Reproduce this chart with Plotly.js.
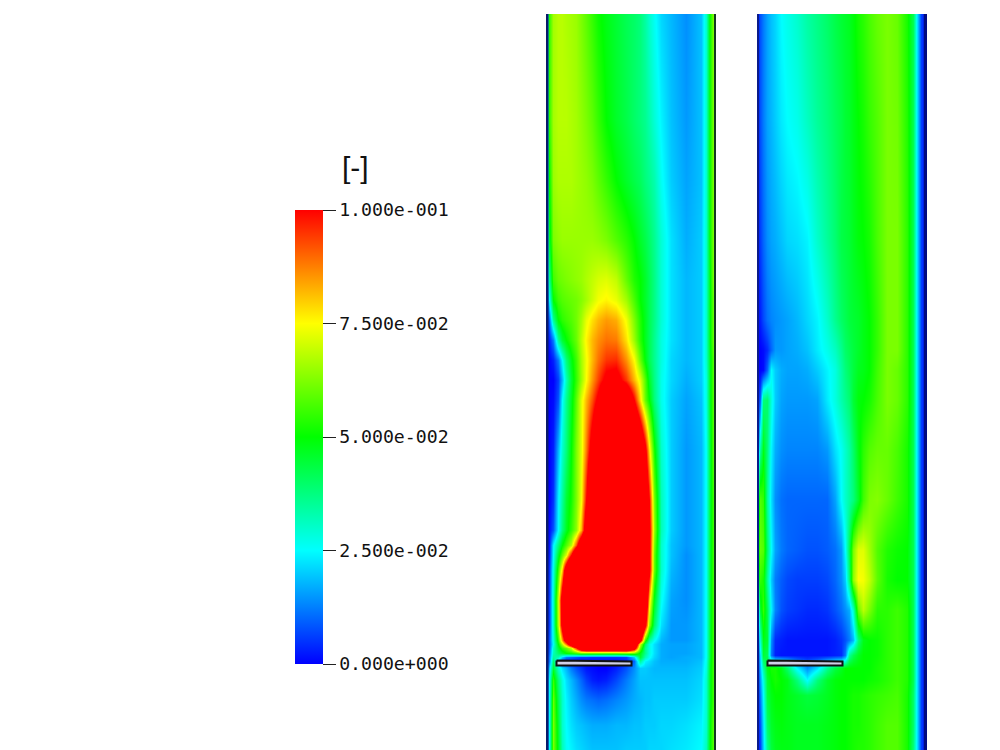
<!DOCTYPE html>
<html><head><meta charset="utf-8">
<script src="https://cdn.plot.ly/plotly-3.0.1.min.js"></script>
<style>html,body{margin:0;padding:0;background:#fff}#c{width:1000px;height:750px}</style>
</head><body><div id="c"></div>
<script>
// field values are in units of 1e-3 of the scale; anything above 100 saturates red
const scaleTicks = [0, 25, 50, 75, 100];
const scaleLabels = ['0.000e+000', '2.500e-002', '5.000e-002', '7.500e-002', '1.000e-001'];
const unitLabel = '[-]';

const leftCols = [0,3,7,12,16,20,25,30,35,40,46,52,60,70,80,88,94,99,103,108,115,125,140,155,160,164,167,170];
const leftRows = [14,120,180,240,280,300,320,340,360,380,400,450,500,530,545,555,570,600,625,640,644,648,653,657,661,668,680,700,725,750];
const leftValues = [
[0,55,66,68,68,67,66,65,62,59,55,51,48,45,42,40,38,34,30,26,21,18,14,19,30,52,62,40],
[0,55,66,68,68,68,67,66,64,62,59,55,50,46,43,40,38,36,33,29,24,19,15,19,30,52,62,40],
[0,50,65,67,67,67,67,66,65,64,62,59,55,50,46,43,41,38,36,33,26,20,16,19,30,52,62,40],
[0,45,62,64,65,65,65,65,65,65,65,64,62,58,54,50,46,43,40,36,29,22,17,20,30,52,62,40],
[0,35,56,60,61,62,63,64,65,67,69,71,72,69,60,53,50,46,42,37,29,22,18,20,30,50,62,40],
[0,25,50,56,58,59,60,61,63,66,70,74,76,73,66,57,50,46,42,37,29,22,18,20,30,50,60,40],
[0,10,35,50,54,56,58,61,66,73,78,82,85,83,74,62,53,47,42,37,29,22,18,20,30,50,60,40],
[0,3,12,35,45,50,55,60,68,76,82,86,89,88,78,65,54,47,42,36,28,22,18,20,30,50,60,40],
[0,0,3,12,25,38,48,56,66,74,82,89,95,96,86,75,60,49,42,36,28,21,18,20,30,48,58,40],
[0,0,0,6,18,32,45,55,65,75,85,94,104,106,95,82,72,58,46,37,27,21,17,20,28,48,58,40],
[0,0,1,8,25,36,47,59,72,82,92,104,130,140,125,100,78,60,50,38,27,20,16,19,28,48,58,40],
[0,0,3,18,30,38,50,62,72,88,110,135,160,160,160,150,130,105,78,52,30,20,15,18,26,46,58,40],
[0,0,5,24,35,45,52,62,74,100,140,160,160,160,160,160,150,125,100,62,32,20,15,18,26,46,56,40],
[0,1,8,25,38,47,55,64,82,115,150,160,160,160,160,160,160,135,105,65,32,20,15,18,26,46,56,40],
[0,2,24,38,50,58,68,92,125,150,160,160,160,160,160,160,160,135,105,62,30,19,15,18,26,46,56,40],
[0,3,25,46,60,72,100,135,160,160,160,160,160,160,160,160,160,138,105,60,30,19,14,18,26,46,56,40],
[0,5,28,56,80,120,160,160,160,160,160,160,160,160,160,160,160,140,105,60,30,18,14,18,26,46,56,40],
[0,6,30,70,115,160,160,160,160,160,160,160,160,160,160,160,160,130,80,48,26,16,14,18,26,46,56,40],
[0,6,30,68,110,150,160,160,160,160,160,160,160,160,160,160,150,105,65,40,22,15,15,18,26,46,56,40],
[0,8,28,55,85,115,150,160,160,160,160,160,160,160,160,160,110,55,35,26,18,15,15,18,26,46,56,40],
[0,8,26,50,68,88,120,155,160,160,160,160,160,160,160,135,70,40,28,22,17,16,16,18,26,46,56,40],
[0,8,30,45,55,60,70,95,125,140,140,140,140,140,140,110,60,36,28,22,17,16,16,18,26,46,56,40],
[0,10,32,40,45,50,52,55,60,60,60,60,60,60,62,60,48,36,28,22,17,16,16,18,26,46,56,40],
[0,12,35,32,20,12,10,8,6,6,5,5,5,5,6,20,45,32,26,21,17,16,17,18,26,46,56,40],
[0,12,40,20,6,2,1,0,0,0,0,0,0,0,3,10,35,24,22,19,17,17,17,19,27,47,56,40],
[0,20,45,30,22,18,12,8,5,2,1,0,0,3,8,14,20,20,19,18,18,18,18,20,28,48,56,40],
[0,25,55,38,28,22,18,14,10,6,3,2,3,7,12,16,19,19,19,19,19,19,19,21,30,48,56,40],
[0,25,60,42,30,24,20,17,14,12,11,10,11,13,15,17,18,19,19,20,20,20,20,22,30,48,56,40],
[0,25,62,45,30,25,22,20,19,18,17,17,17,18,18,19,19,20,20,20,21,21,22,24,30,50,58,40],
[0,25,62,47,32,26,24,22,21,20,19,19,19,19,20,20,20,20,21,21,21,22,23,25,32,50,58,40]
];

const rightCols = [0,3,6,10,14,18,24,30,40,50,60,70,78,84,88,92,96,101,106,112,120,130,140,150,156,160,164,170];
const rightRows = [14,120,240,320,350,370,400,450,500,550,580,610,640,655,668,680,695,725,750];
const rightValues = [
[0,8,12,16,19,21,25,27,30,34,37,40,43,45,46,47,49,52,54,57,60,62,60,52,42,22,6,0],
[0,8,12,16,18,20,23,25,27,31,35,38,41,43,45,46,48,50,52,55,58,62,61,53,42,22,6,0],
[0,6,10,14,16,17,19,21,22,24,30,35,39,43,44,45,47,49,50,52,57,62,62,54,42,22,6,0],
[0,3,7,11,13,14,15,16,18,21,24,30,36,40,42,44,45,46,48,50,55,62,62,54,42,22,6,0],
[0,0,1,4,10,15,15,16,17,19,23,27,31,36,40,42,44,46,48,50,55,62,62,54,42,22,6,0],
[0,0,1,10,25,20,17,16,16,17,20,24,28,34,38,41,44,47,48,50,56,62,60,54,42,22,6,0],
[0,10,38,40,28,20,16,15,15,15,16,23,28,33,36,39,45,49,50,52,57,62,60,54,42,22,6,0],
[0,35,48,38,24,17,14,13,13,13,13,15,22,26,30,34,40,48,54,58,60,60,57,52,42,22,6,0],
[30,58,55,35,22,14,11,10,10,10,10,10,16,25,30,34,38,46,56,62,63,60,56,52,42,22,6,0],
[40,60,58,40,25,16,12,10,9,8,8,9,11,15,25,42,62,72,72,66,58,53,51,50,42,22,6,0],
[30,55,52,35,20,12,9,7,6,6,6,7,10,14,20,38,64,75,74,69,59,52,50,50,42,22,6,0],
[0,45,55,42,24,13,8,6,5,4,4,5,8,11,14,17,30,60,68,62,54,54,56,53,42,22,6,0],
[0,30,48,45,14,4,3,2,2,2,2,2,3,5,8,12,18,38,48,50,51,54,56,53,42,22,6,0],
[0,22,45,42,12,3,2,2,2,2,2,2,3,4,12,35,42,47,50,50,51,54,56,53,42,22,6,0],
[0,18,34,48,52,52,48,40,24,14,22,36,44,47,50,50,50,50,50,50,52,54,56,53,42,22,6,0],
[0,15,28,45,50,52,50,48,38,25,38,46,49,50,50,50,50,50,50,51,52,54,56,53,42,22,6,0],
[0,12,25,44,48,50,50,48,46,44,45,47,49,50,50,51,52,52,53,54,55,56,57,52,40,22,6,0],
[0,8,22,40,46,48,49,48,47,47,47,48,49,50,50,51,52,52,53,54,56,58,58,52,40,22,6,0],
[0,6,20,36,44,47,48,48,47,47,47,48,49,50,50,51,52,53,53,54,56,58,58,52,38,22,6,0]
];

const plateLeftX = [10.5, 85.5, 85.5, 10.5, 10.5];
const plateRightX = [10.5, 85.5, 85.5, 10.5, 10.5];
const plateY = [660.5, 661.5, 665.5, 665.5, 660.5];
const wallY = [14, 750];
const leftWallX = [1, 1];
const rightWallX = [169, 169];
const sideWallX = [168.5, 168.5];

const rainbow = [[0,'#0000ff'],[0.25,'#00ffff'],[0.5,'#00ff00'],[0.75,'#ffff00'],[1,'#ff0000']];

const traces = [
  {type:'heatmap', x:leftCols, y:leftRows, z:leftValues, zmin:0, zmax:100, zsmooth:'best',
   colorscale:rainbow, hoverinfo:'skip', xaxis:'x', yaxis:'y',
   colorbar:{x:0.2945, xref:'paper', xanchor:'left', xpad:0, ypad:0, y:86/750, yanchor:'bottom', len:454/750,
     lenmode:'fraction', thickness:28, thicknessmode:'pixels', outlinewidth:0, borderwidth:0,
     tickmode:'array', tickvals:scaleTicks, ticktext:scaleLabels, ticks:'outside', ticklen:13, tickwidth:1,
     tickcolor:'#222', tickfont:{family:'DejaVu Sans Mono', size:18.2, color:'#111'}}},
  {type:'heatmap', x:rightCols, y:rightRows, z:rightValues, zmin:0, zmax:100, zsmooth:'best',
   colorscale:rainbow, showscale:false, hoverinfo:'skip', xaxis:'x2', yaxis:'y'},
  {type:'scatter', mode:'lines', x:leftWallX, y:wallY, xaxis:'x', yaxis:'y', line:{color:'#0a1a6a', width:3}, hoverinfo:'skip', cliponaxis:false},
  {type:'scatter', mode:'lines', x:rightWallX, y:wallY, xaxis:'x', yaxis:'y', line:{color:'#123a20', width:2}, hoverinfo:'skip', cliponaxis:false},
  {type:'scatter', mode:'lines', x:leftWallX, y:wallY, xaxis:'x2', yaxis:'y', line:{color:'#0a1a8a', width:2}, hoverinfo:'skip', cliponaxis:false},
  {type:'scatter', mode:'lines', x:sideWallX, y:wallY, xaxis:'x2', yaxis:'y', line:{color:'#000a80', width:3.5}, hoverinfo:'skip', cliponaxis:false},
  {type:'scatter', mode:'lines', x:plateLeftX, y:plateY, xaxis:'x', yaxis:'y', fill:'toself', fillcolor:'#d0d0e8', line:{color:'#111', width:2}, hoverinfo:'skip'},
  {type:'scatter', mode:'lines', x:plateRightX, y:plateY, xaxis:'x2', yaxis:'y', fill:'toself', fillcolor:'#d0d0e8', line:{color:'#111', width:2}, hoverinfo:'skip'}
];

const hidden = {showgrid:false, zeroline:false, showticklabels:false, ticks:'', showline:false, fixedrange:true};
const layout = {
  width:1000, height:750, margin:{l:0,r:0,t:0,b:0,pad:0}, paper_bgcolor:'#fff', plot_bgcolor:'#fff', showlegend:false,
  xaxis:Object.assign({domain:[0.546,0.716], range:[0,170]}, hidden),
  xaxis2:Object.assign({domain:[0.757,0.927], range:[0,170], anchor:'y'}, hidden),
  yaxis:Object.assign({domain:[0,736/750], range:[750,14]}, hidden),
  annotations:[{text:unitLabel, xref:'paper', yref:'paper', x:0.3555, y:(750-168)/750, xanchor:'center', yanchor:'middle',
    showarrow:false, font:{family:'Liberation Sans', size:30, color:'#111'}}]
};
Plotly.newPlot('c', traces, layout, {displayModeBar:false, staticPlot:true});
</script></body></html>
